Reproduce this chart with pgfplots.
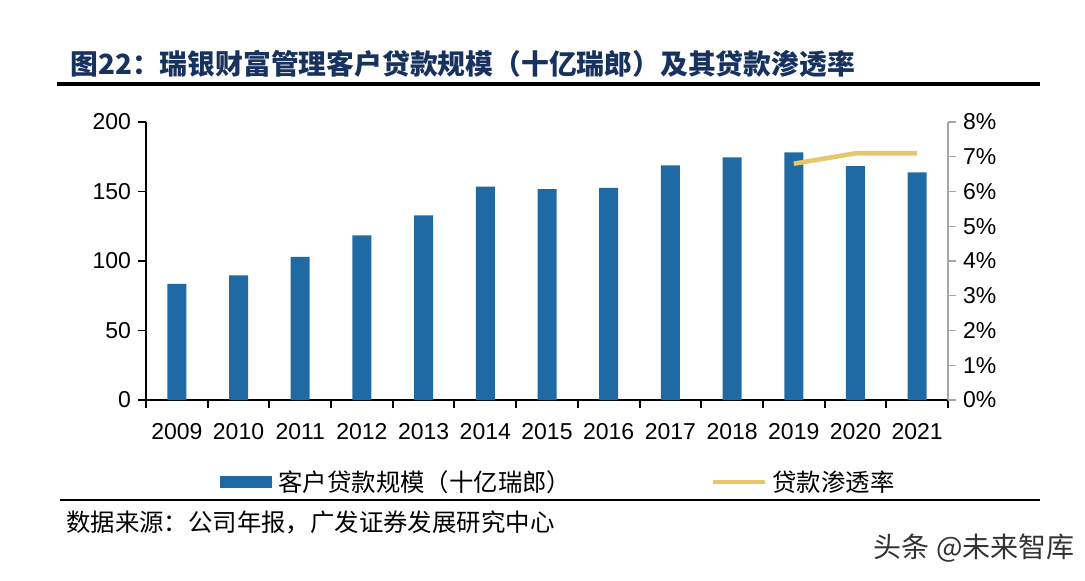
\documentclass[border=0pt]{standalone}
\usepackage{fontspec}
\usepackage{pgfplots}
\pgfplotsset{compat=1.18}
\setmainfont{Liberation Sans}
\newfontfamily\cjk{Noto Sans CJK SC}
\definecolor{barblue}{HTML}{1F6AA5}
\definecolor{linegold}{HTML}{E6C76B}
\definecolor{titlenavy}{HTML}{17325E}
\begin{document}
\begin{tikzpicture}[x=1pt,y=1pt]
\useasboundingbox (-73,-90) rectangle (469.5,200);
\pgfplotsset{every axis/.append style={scale only axis, width=401pt, height=139pt,
  xmin=-0.5, xmax=12.5, at={(0pt,0pt)}, anchor=south west,
  tick align=outside, major tick length=4pt,
  /pgf/number format/assume math mode=true,
  ticklabel style={font=\fontsize{11.5}{12}\selectfont}}}
\begin{axis}[
  axis y line*=left, axis x line*=bottom,
  ymin=0, ymax=200, ytick={0,50,...,200},
  xtick={-0.5,0.5,...,12.5}, xticklabels={},
  extra x ticks={0,1,...,12},
  extra x tick labels={2009,2010,2011,2012,2013,2014,2015,2016,2017,2018,2019,2020,2021},
  extra x tick style={major tick length=0pt, tick style={draw=none}},
  x axis line style={line width=1pt, -}, y axis line style={line width=0.8pt, -},
  xtick style={line width=1pt, black}, ytick style={line width=0.8pt, black},
  xticklabel style={yshift=-8pt},
]
\addplot[ybar, bar width=9.5pt, fill=barblue, draw=none] coordinates {
(0,83.5)(1,89.7)(2,102.9)(3,118.5)(4,132.9)(5,153.5)(6,151.8)(7,152.7)(8,168.8)(9,174.6)(10,178.2)(11,168.3)(12,163.8)};
\end{axis}
\begin{axis}[
  axis y line*=right, axis x line=none,
  ymin=0, ymax=8, ytick={0,1,...,8},
  yticklabel={\pgfmathprintnumber{\tick}\%},
  y axis line style={line width=0.8pt, gray!70, -}, ytick style={line width=0.6pt, gray!70},
]
\addplot[linegold, line width=2.3pt] coordinates {(10,6.8)(11,7.1)(12,7.1)};
\end{axis}
% title
\node[anchor=west, inner sep=0, text=titlenavy, font=\cjk\bfseries\fontsize{13.9}{14}\selectfont] at (-38,168) {图22：瑞银财富管理客户贷款规模（十亿瑞郎）及其贷款渗透率};
\draw[line width=1.6pt, black] (-44.5,158) -- (447,158);
% legend
\fill[barblue] (37,-38) rectangle (63,-44);
\node[anchor=west, inner sep=0, font=\cjk\fontsize{12.2}{12.5}\selectfont] at (66,-41) {客户贷款规模（十亿瑞郎）};
\draw[linegold, line width=2.3pt] (283.5,-41) -- (309.5,-41);
\node[anchor=west, inner sep=0, font=\cjk\fontsize{12.2}{12.5}\selectfont] at (313,-41) {贷款渗透率};
\draw[line width=1pt, black] (-43,-50) -- (447,-50);
% source
\node[anchor=west, inner sep=0, font=\cjk\fontsize{12.2}{12.5}\selectfont] at (-40,-61) {数据来源：公司年报，广发证券发展研究中心};
\node[anchor=east, inner sep=0, text=black!80, font=\cjk\fontsize{14}{14}\selectfont] at (464.5,-74) {头条 @未来智库};
\end{tikzpicture}
\end{document}
